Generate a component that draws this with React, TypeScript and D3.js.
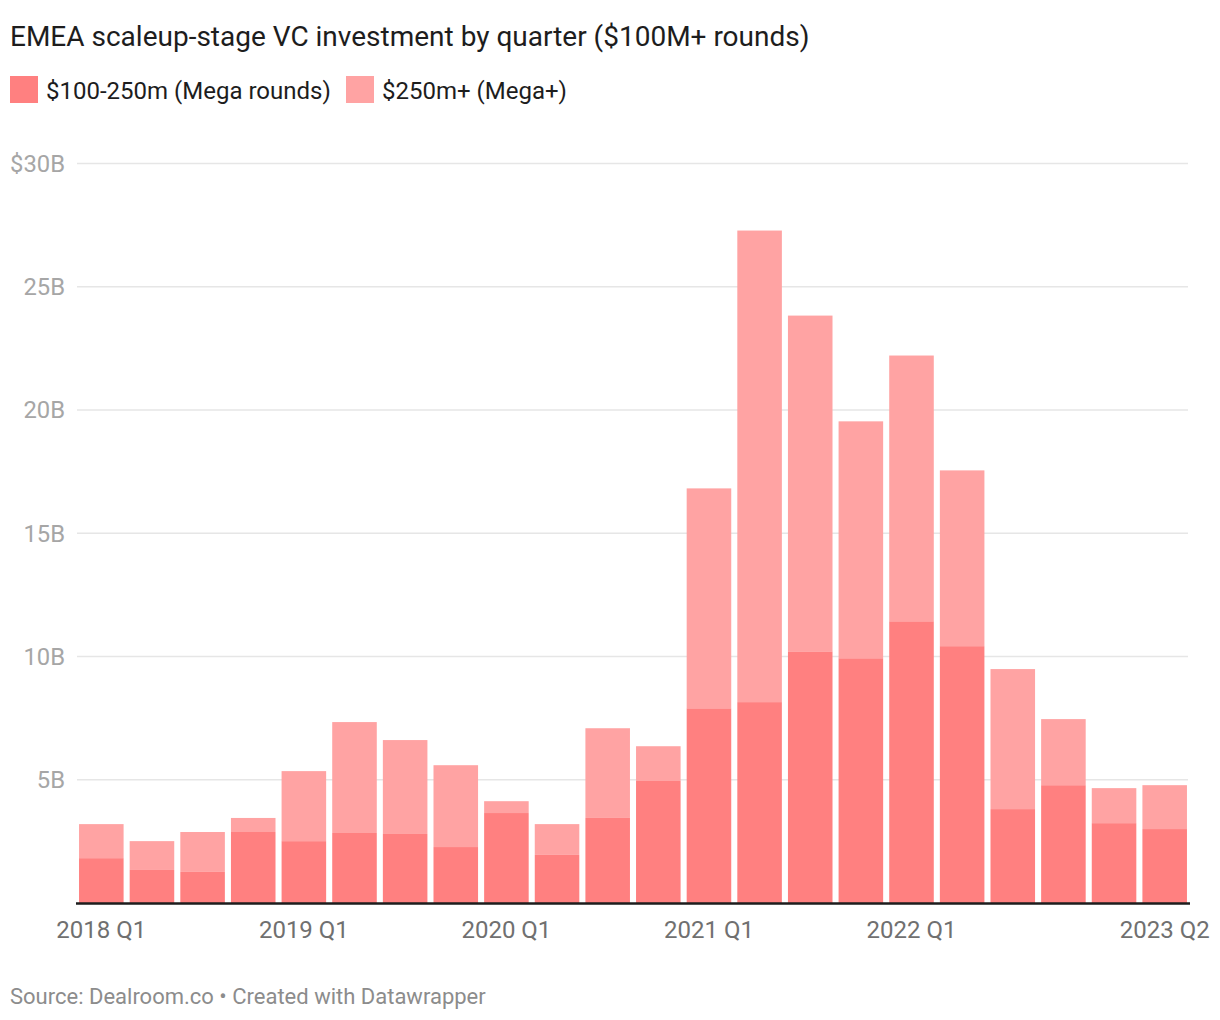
// React
import { useMemo } from 'react';

// Installed Packages
import * as d3 from 'd3';

// Data (US$ billions)
const quarters = [
    '2018 Q1', '2018 Q2', '2018 Q3', '2018 Q4',
    '2019 Q1', '2019 Q2', '2019 Q3', '2019 Q4',
    '2020 Q1', '2020 Q2', '2020 Q3', '2020 Q4',
    '2021 Q1', '2021 Q2', '2021 Q3', '2021 Q4',
    '2022 Q1', '2022 Q2', '2022 Q3', '2022 Q4',
    '2023 Q1', '2023 Q2'
];

const megaRounds = [1.82, 1.34, 1.26, 2.88, 2.51, 2.84, 2.80, 2.27, 3.65, 1.95, 3.45, 4.95, 7.90, 8.15, 10.21, 9.93, 11.43, 10.42, 3.81, 4.78, 3.24, 3.00];
const megaPlus = [1.38, 1.17, 1.62, 0.57, 2.84, 4.50, 3.81, 3.32, 0.48, 1.25, 3.64, 1.41, 8.92, 19.13, 13.62, 9.61, 10.78, 7.13, 5.68, 2.68, 1.42, 1.78];

const seriesNames = ['$100-250m (Mega rounds)', '$250m+ (Mega+)'];
const yTicks = [5, 10, 15, 20, 25, 30];
const xTickLabels = ['2018 Q1', '2019 Q1', '2020 Q1', '2021 Q1', '2022 Q1', '2023 Q2'];

const COLORS = ['#ff8080', '#ffa3a3'];
const FONT = 'Roboto, "Noto Sans", sans-serif';

export default function App() {
    const width = 1220;
    const height = 1020;
    const margin = { top: 163.5, right: 30, bottom: 117, left: 76 };

    const x = d3.scaleBand<string>()
        .domain(quarters)
        .range([margin.left, width - margin.right])
        .paddingInner(0.12)
        .paddingOuter(0.06);

    const y = d3.scaleLinear()
        .domain([0, 30])
        .range([height - margin.bottom, margin.top]);

    const stacked = useMemo(() => {
        const rows = quarters.map((q, i) => ({ quarter: q, a: megaRounds[i], b: megaPlus[i] }));
        return d3.stack<any>().keys(['a', 'b'])(rows);
    }, []);

    const base = y(0);

    return (
        <div>
            <style>{'body{margin:0}'}</style>
            <svg width={width} height={height} style={{ display: 'block', fontFamily: FONT }}>
                <rect width={width} height={height} fill="#fff" />

                {/* Title */}
                <text x={10} y={46} fontSize={28} fill="#1d1d1d">
                    EMEA scaleup-stage VC investment by quarter ($100M+ rounds)
                </text>

                {/* Legend */}
                {seriesNames.map((name, i) => {
                    const lx = i === 0 ? 10 : 346;
                    return (
                        <g key={name} transform={`translate(${lx}, 76)`}>
                            <rect width={28} height={27} fill={COLORS[i]} />
                            <text x={36} y={22.5} fontSize={24} fill="#1d1d1d">{name}</text>
                        </g>
                    );
                })}

                {/* Grid lines + y labels */}
                {yTicks.map(t => (
                    <g key={t}>
                        <line x1={77} x2={1188} y1={y(t)} y2={y(t)} stroke="#e6e6e6" strokeWidth={1.6} />
                        <text x={65} y={y(t)} dy="0.35em" textAnchor="end" fontSize={23.8} fill="#a6a6a6">
                            {t === 30 ? '$30B' : `${t}B`}
                        </text>
                    </g>
                ))}

                {/* Bars */}
                {stacked.map((s, si) => (
                    <g key={s.key} fill={COLORS[si]}>
                        {s.map((d: any) => (
                            <rect
                                key={d.data.quarter}
                                x={x(d.data.quarter)}
                                y={y(d[1])}
                                width={x.bandwidth()}
                                height={y(d[0]) - y(d[1])}
                            />
                        ))}
                    </g>
                ))}

                {/* Baseline */}
                <line x1={76} x2={1190} y1={base + 0.5} y2={base + 0.5} stroke="#1d1d1d" strokeWidth={2.5} />

                {/* X labels */}
                {xTickLabels.map(q => (
                    <text key={q} x={x(q)! + x.bandwidth() / 2} y={938} textAnchor="middle" fontSize={24} fill="#707070">
                        {q}
                    </text>
                ))}

                {/* Footer */}
                <text x={10} y={1004} fontSize={22} fill="#8c8c8c">
                    Source: Dealroom.co • Created with Datawrapper
                </text>
            </svg>
        </div>
    );
}
